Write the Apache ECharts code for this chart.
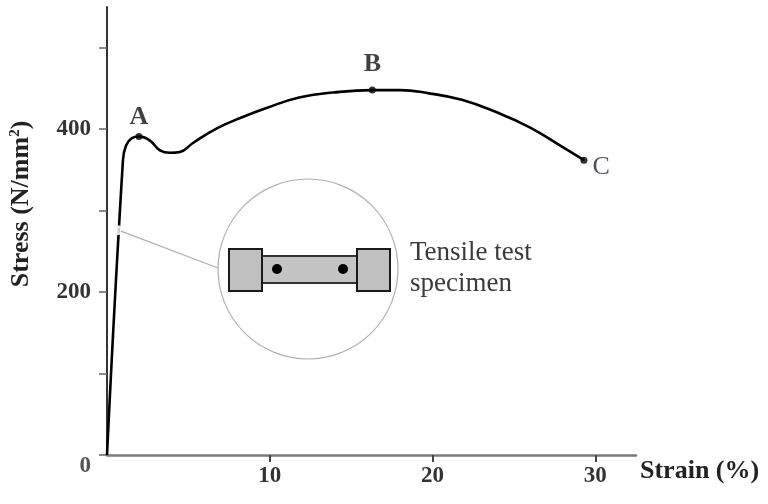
<!DOCTYPE html>
<html><head><meta charset="utf-8">
<script src="https://cdn.jsdelivr.net/npm/echarts@6/dist/echarts.min.js"></script>
<style>html,body{margin:0;padding:0;background:#fff}#c{width:768px;height:504px}</style>
</head><body><div id="c"></div>
<script>
// ---- data ----
const strain = [0, 0.98, 1.17, 1.53, 1.96, 2.64, 3.25, 3.87, 4.48, 5.28, 6.75, 8.34, 9.8, 11.8, 13.9, 16.3, 18.0, 19.8, 21.8, 23.9, 26.0, 28.0, 29.3];
const stress = [0, 362, 380, 389, 391, 386, 374, 371, 372, 383, 401, 415, 426, 439, 445, 448, 448, 444, 436, 421, 402, 378, 362];
const pointNames = ['A', 'B', 'C'];
const pointStrain = [1.96, 16.3, 29.3];
const pointStress = [391, 448, 362];
const specimenStrain = [0.67];
const specimenStress = [276];
const xTickValues = [10, 20, 30];
const yTickValues = [0, 100, 200, 300, 400, 500];
const yLabelValues = [0, 200, 400];
const xTitle = 'Strain (%)';
const yTitle = 'Stress (N/mm{sup|2})';
const insetText = ['Tensile test', 'specimen'];

const SERIF = '"Liberation Serif", "Times New Roman", serif';
const chart = echarts.init(document.getElementById('c'));

const curveData = strain.map((x, i) => [x, stress[i]]);
const labelStyles = [
  {position: 'top', distance: 3, fontWeight: 'bold'},
  {position: 'top', distance: 9, fontWeight: 'bold'},
  {position: 'right', distance: 5, fontWeight: 'normal', offset: [0, 7], color: '#223'}
];
const pointData = pointNames.map((n, i) => ({
  value: [pointStrain[i], pointStress[i]],
  name: n,
  label: Object.assign({show: true, formatter: n, fontFamily: SERIF, fontSize: 26, color: '#111'}, labelStyles[i])
}));

chart.setOption({
  animation: false,
  grid: {left: 107, right: 132, top: 7, bottom: 49, outerBoundsMode: 'none', containLabel: false},
  xAxis: {
    type: 'value', min: 0, max: 32.5, interval: 10,
    axisLine: {lineStyle: {color: '#7a7a7a', width: 2.5}},
    axisTick: {show: true, length: 7, customValues: xTickValues, lineStyle: {color: '#444', width: 2}},
    axisLabel: {customValues: xTickValues, margin: 10, fontFamily: SERIF, fontSize: 23, fontWeight: 'bold', color: '#333'},
    splitLine: {show: false},
    name: xTitle, nameLocation: 'end', nameGap: 4,
    nameTextStyle: {fontFamily: SERIF, fontSize: 26, fontWeight: 'bold', color: '#222', align: 'left', verticalAlign: 'top', padding: [3, 0, 0, 0]}
  },
  yAxis: {
    type: 'value', min: 0, max: 550, interval: 100,
    axisLine: {show: true, lineStyle: {color: '#333', width: 2}},
    axisTick: {show: true, length: 8, customValues: yTickValues, lineStyle: {color: '#666', width: 1.5}},
    axisLabel: {
      customValues: yLabelValues, margin: 16, fontFamily: SERIF, fontSize: 23, fontWeight: 'bold', color: '#333',
      formatter: v => v === 0 ? '{z|0}' : String(v),
      rich: {z: {padding: [22, 0, 0, 0], fontFamily: SERIF, fontSize: 23, fontWeight: 'bold', color: '#555'}}
    },
    splitLine: {show: false},
    name: yTitle, nameLocation: 'middle', nameRotate: 90, nameGap: 73,
    nameTextStyle: {
      fontFamily: SERIF, fontSize: 26, fontWeight: 'bold', color: '#222', padding: [0, 0, 0, 54],
      rich: {sup: {fontFamily: SERIF, fontSize: 15, fontWeight: 'bold', color: '#222', verticalAlign: 'top', padding: [0, 0, 10, 0]}}
    }
  },
  series: [
    {type: 'line', data: curveData, smooth: 0.45, showSymbol: false, lineStyle: {color: '#000', width: 2.6}, z: 3},
    {type: 'scatter', data: pointData, symbol: 'circle', symbolSize: 7, itemStyle: {color: '#000'}, z: 4},
    {type: 'scatter', data: specimenStrain.map((x, i) => [x, specimenStress[i]]), symbol: 'emptyCircle', symbolSize: 8,
     itemStyle: {color: '#fff', borderColor: '#aaa', borderWidth: 1}, z: 5}
  ]
});

const p = chart.convertToPixel({gridIndex: 0}, [specimenStrain[0], specimenStress[0]]);
const G = '#b0b0b0';
chart.setOption({
  graphic: [
    {type: 'line', shape: {x1: p[0] + 3, y1: p[1] + 1, x2: 218, y2: 268}, style: {stroke: G, lineWidth: 1.2}, z: 10},
    {type: 'circle', shape: {cx: 308, cy: 269, r: 90}, style: {fill: 'none', stroke: G, lineWidth: 1.2}, z: 10},
    {type: 'rect', shape: {x: 262, y: 256, width: 95, height: 27}, style: {fill: '#c4c4c4', stroke: '#333', lineWidth: 2}, z: 11},
    {type: 'rect', shape: {x: 229, y: 249, width: 33, height: 42}, style: {fill: '#c0c0c0', stroke: '#1a1a1a', lineWidth: 2}, z: 12},
    {type: 'rect', shape: {x: 357, y: 249, width: 33, height: 42}, style: {fill: '#c0c0c0', stroke: '#1a1a1a', lineWidth: 2}, z: 12},
    {type: 'circle', shape: {cx: 277, cy: 269, r: 5}, style: {fill: '#000'}, z: 13},
    {type: 'circle', shape: {cx: 343, cy: 269, r: 5}, style: {fill: '#000'}, z: 13},
    {type: 'text', x: 410, y: 253, style: {text: insetText[0], font: '27px ' + SERIF, fill: '#3a3a3a', align: 'left', verticalAlign: 'middle'}, z: 13},
    {type: 'text', x: 410, y: 284, style: {text: insetText[1], font: '27px ' + SERIF, fill: '#3a3a3a', align: 'left', verticalAlign: 'middle'}, z: 13}
  ]
});
</script></body></html>
